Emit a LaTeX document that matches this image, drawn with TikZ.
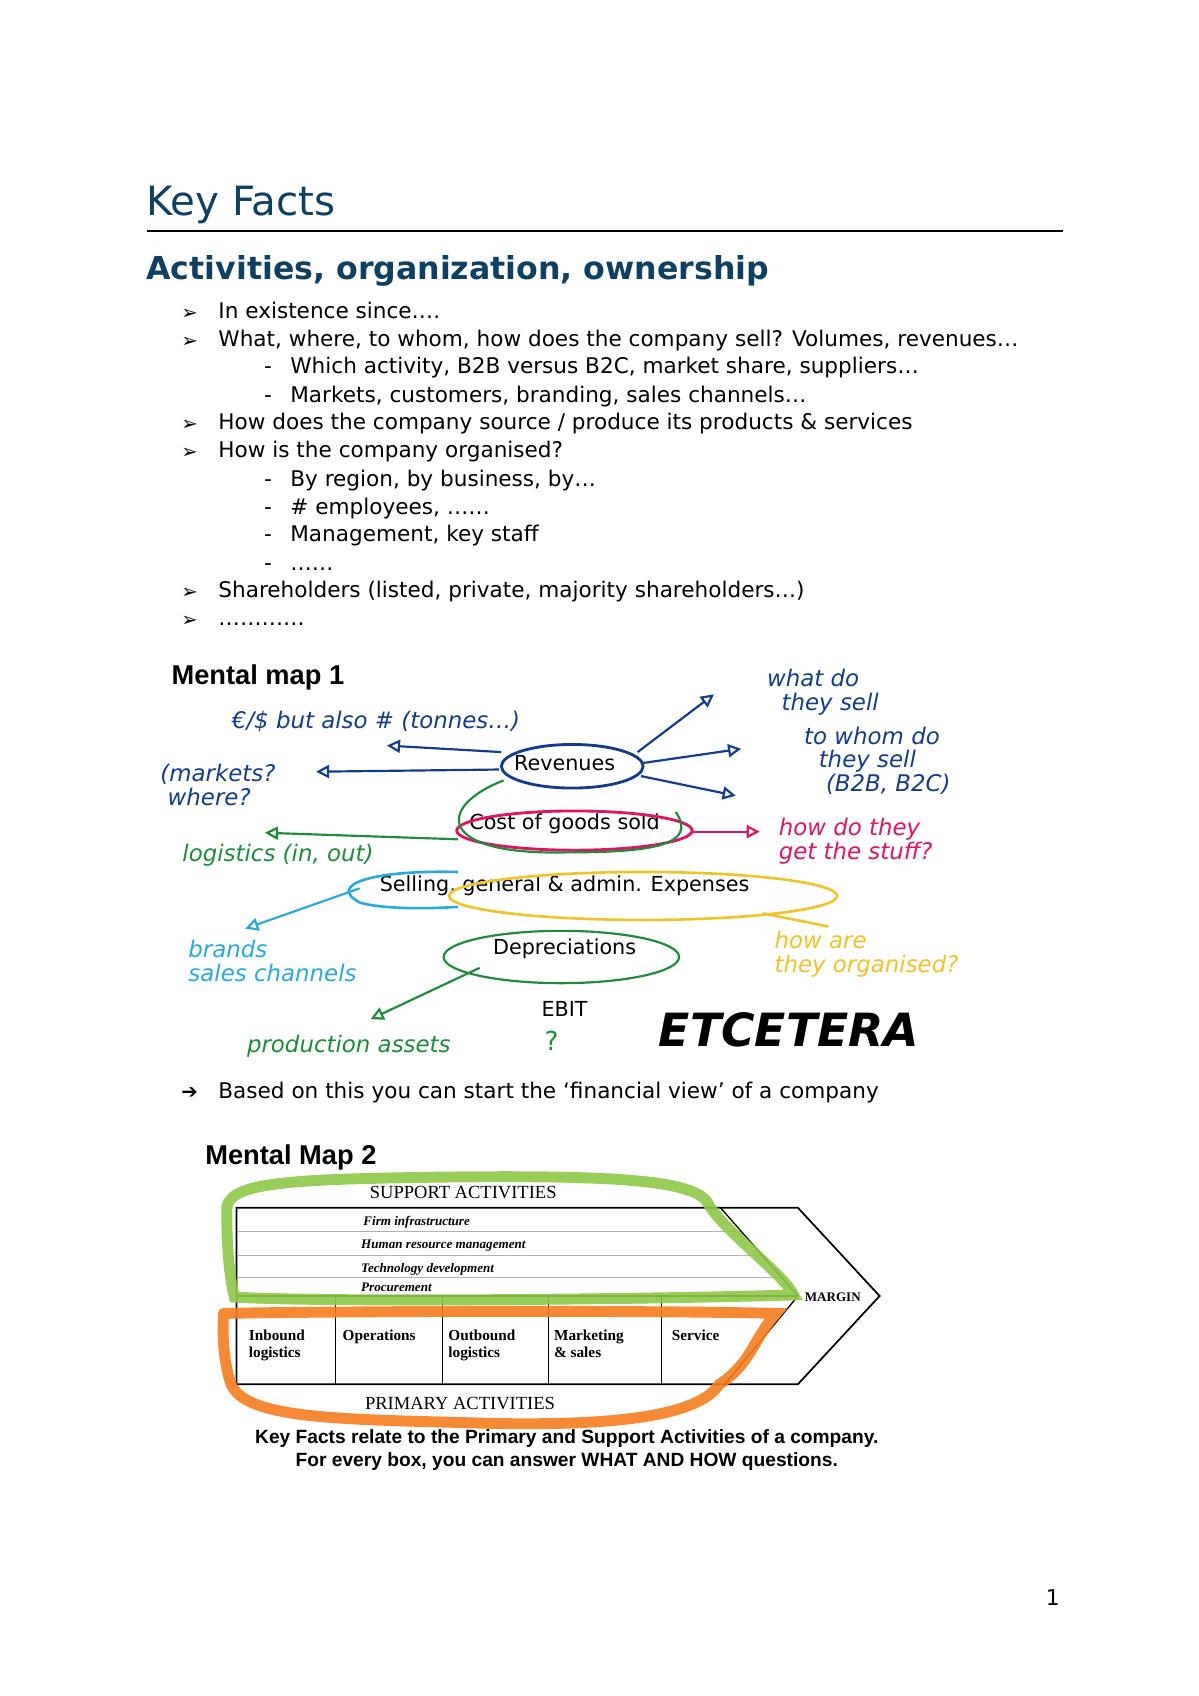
\documentclass[tikz,border=0pt]{standalone}
\usepackage{fontspec}
\setmainfont{DejaVu Sans}
\newfontfamily\serifvc{Liberation Serif}
\newfontfamily\boldsans{Liberation Sans}
\usetikzlibrary{arrows.meta}
\definecolor{hblue}{RGB}{14,64,100}
\definecolor{hand}{RGB}{20,60,140}
\definecolor{hgreen}{RGB}{30,140,60}
\definecolor{hpink}{RGB}{225,20,100}
\definecolor{hcyan}{RGB}{40,170,220}
\definecolor{hyellow}{RGB}{240,195,40}
\definecolor{lgreen}{RGB}{140,200,70}
\definecolor{lorange}{RGB}{245,125,30}
\tikzset{
 body/.style={anchor=base west,font=\fontsize{9.9}{11}\selectfont,inner sep=0},
 bul/.style={anchor=base west,font=\fontsize{9}{11}\selectfont,inner sep=0},
 handw/.style={font=\fontsize{10.5}{11}\selectfont\itshape,inner sep=0,align=left},
 harr/.style={line width=1pt,-{Triangle[open,length=6pt,width=6pt]}},
 vc/.style={font=\serifvc\bfseries\fontsize{7}{7.8}\selectfont,anchor=north west,align=left,inner sep=0},
 vci/.style={font=\serifvc\bfseries\itshape\fontsize{6}{6}\selectfont,anchor=base west,inner sep=0},
}
\begin{document}
\begin{tikzpicture}[x=0.5pt,y=-0.5pt]
\useasboundingbox[fill=white] (0,0) rectangle (1100,1556);
\node[anchor=base west,inner sep=0,text=hblue,font=\fontsize{18.5}{20}\selectfont] (kf) at (134,198) {Key Facts};
\draw[line width=0.6pt] (135,212) -- (975,212);
\node[anchor=base west,inner sep=0,text=hblue,font=\bfseries\fontsize{14.5}{16}\selectfont] (act) at (134,256) {Activities, organization, ownership};
\foreach \y/\t in {294/{In existence since\dots.},320/{What, where, to whom, how does the company sell? Volumes, revenues\dots},396/{How does the company source / produce its products \& services},422/{How is the company organised?},550/{Shareholders (listed, private, majority shareholders\dots)},576/{\dots\dots\dots\dots}}
 {\node[bul] at (166,\y-1) {➢}; \node[body] at (200,\y-2) {\t};}
\foreach \y/\t in {345/{Which activity, B2B versus B2C, market share, suppliers\dots},371/{Markets, customers, branding, sales channels\dots},448/{By region, by business, by\dots},474/{\# employees, \dots\dots},499/{Management, key staff},525/{\dots\dots}}
 {\node[body] at (242,\y-2) {-}; \node[body] at (266,\y-2) {\t};}
% Mental map 1
\node[anchor=base west,inner sep=0,font=\boldsans\bfseries\fontsize{12.5}{14}\selectfont] (mm1) at (157,628) {Mental map 1};
\node[font=\fontsize{9.5}{11}\selectfont] (rev) at (518,700) {Revenues};
\draw[hand,line width=1.3pt] (525,703) ellipse (65 and 20);
\node[font=\fontsize{9.5}{11}\selectfont] (cogs) at (518,756) {Cost of goods sold};
\draw[hpink,line width=1.3pt] (527,762) ellipse (108 and 18);
\draw[hgreen,line width=1pt] (462,716) .. controls (400,740) and (400,785) .. (520,782) .. controls (600,782) and (640,775) .. (620,745);
\node[font=\fontsize{9.5}{11}\selectfont] (sga) at (518,813) {Selling, general \& admin. Expenses};
\draw[hyellow,line width=1.2pt] (590,822) ellipse (178 and 22);
\draw[hcyan,line width=1.2pt] (420,800) .. controls (340,798) and (300,812) .. (330,828) .. controls (350,834) and (390,834) .. (420,832);
\node[font=\fontsize{9.5}{11}\selectfont] (dep) at (518,870) {Depreciations};
\draw[hgreen,line width=1pt] (515,878) ellipse (108 and 24);
\node[font=\fontsize{9.5}{11}\selectfont] (ebit) at (518,926) {EBIT};
\node[hgreen,font=\fontsize{12}{12}\selectfont] (q) at (506,955) {?};
\node[font=\bfseries\itshape\fontsize{21}{21}\selectfont] (etc) at (724,945) {ETCETERA};
\node[handw,text=hand] (h1) at (345,662) {€/\$ but also \# (tonnes\dots)};
\node[handw,text=hand] (h2) at (200,720) {(markets?\\\ where?};
\node[handw,text=hand] (h3) at (755,635) {what do\\\ \ they sell};
\node[handw,text=hand] (h4) at (805,698) {to whom do\\\ \ they sell\\\ \ \ (B2B, B2C)};
\node[handw,text=hgreen] (h5) at (255,785) {logistics (in, out)};
\node[handw,text=hpink] (h6) at (785,772) {how do they\\get the stuff?};
\node[handw,text=hcyan] (h7) at (250,882) {brands\\sales channels};
\node[handw,text=hyellow] (h8) at (795,875) {how are\\they organised?};
\node[handw,text=hgreen] (h9) at (320,960) {production assets};
\draw[harr,hand] (460,690) -- (355,684);
\draw[harr,hand] (458,706) -- (290,708);
\draw[harr,hand] (585,690) -- (655,637);
\draw[harr,hand] (590,700) -- (680,687);
\draw[harr,hand] (588,712) -- (675,730);
\draw[harr,hgreen] (420,770) -- (243,764);
\draw[harr,hpink] (635,763) -- (697,763);
\draw[harr,hcyan] (330,815) -- (225,852);
\draw[hyellow,line width=1.2pt] (700,838) -- (760,850);
\draw[harr,hgreen] (440,888) -- (340,935);
\node[bul] (arr) at (166,1008) {➔};
\node[body] (fv) at (200,1008) {Based on this you can start the ‘financial view’ of a company};
% Mental map 2
\node[anchor=base west,inner sep=0,font=\boldsans\bfseries\fontsize{12.5}{14}\selectfont] (mm2) at (188,1068) {Mental Map 2};
\draw[line width=0.8pt] (217,1108) -- (732,1108) -- (807,1189) -- (732,1270) -- (217,1270) -- cycle;
\draw[gray!60,line width=0.5pt] (217,1130) -- (680,1130) (217,1152) -- (700,1152) (217,1172) -- (715,1172);
\draw[line width=0.8pt] (217,1189) -- (732,1189);
\draw[line width=0.6pt] (661,1108) -- (732,1189) -- (665,1270);
\foreach \x in {308,406,503,607} \draw[line width=0.5pt] (\x,1189) -- (\x,1270);
\node[font=\serifvc\fontsize{8.5}{9}\selectfont] (sup) at (425,1094) {SUPPORT ACTIVITIES};
\node[font=\serifvc\fontsize{8.5}{9}\selectfont] (pri) at (422,1288) {PRIMARY ACTIVITIES};
\node[vci] at (333,1124) {Firm infrastructure};
\node[vci] at (331,1145) {Human resource management};
\node[vci] at (331,1167) {Technology development};
\node[vci] at (331,1185) {Procurement};
\node[font=\serifvc\bfseries\fontsize{6}{6}\selectfont] (mar) at (764,1190) {MARGIN};
\node[vc] at (228,1220) {Inbound\\logistics};
\node[vc] at (314,1220) {Operations};
\node[vc] at (411,1220) {Outbound\\logistics};
\node[vc] at (508,1220) {Marketing\\\& sales};
\node[vc] at (616,1220) {Service};
\draw[lgreen,line width=5pt,opacity=0.9,line cap=round] (208,1112) .. controls (205,1085) and (260,1082) .. (400,1080) .. controls (560,1078) and (640,1082) .. (650,1105) .. controls (665,1130) and (720,1170) .. (728,1188) .. controls (600,1192) and (300,1195) .. (215,1190) .. controls (210,1170) and (208,1140) .. (208,1112);
\draw[lorange,line width=5pt,opacity=0.9,line cap=round] (205,1205) .. controls (300,1203) and (600,1202) .. (712,1205) .. controls (690,1230) and (690,1250) .. (660,1270) .. controls (640,1300) and (560,1310) .. (420,1305) .. controls (300,1302) and (225,1300) .. (212,1270) .. controls (205,1250) and (204,1225) .. (205,1205);
\node[font=\boldsans\bfseries\fontsize{8.8}{10.5}\selectfont,align=center] (kt) at (520,1330) {Key Facts relate to the Primary and Support Activities of a company.\\For every box, you can answer WHAT AND HOW questions.};
\node[font=\fontsize{10}{11}\selectfont] (pg) at (966,1466) {1};
\end{tikzpicture}
\end{document}
